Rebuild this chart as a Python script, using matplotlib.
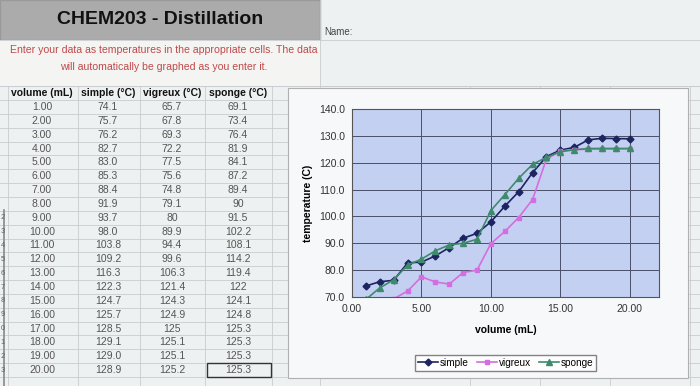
#!/usr/bin/env python3
"""
Spreadsheet screenshot: CHEM203 distillation table + temperature vs volume chart.
"""

import matplotlib
matplotlib.use("Agg")
import matplotlib.pyplot as plt
from matplotlib.patches import Rectangle

plt.rcParams["font.family"] = ["Liberation Sans", "DejaVu Sans"]

# Data (read from the sheet)
volume = [1.0, 2.0, 3.0, 4.0, 5.0, 6.0, 7.0, 8.0, 9.0, 10.0,
          11.0, 12.0, 13.0, 14.0, 15.0, 16.0, 17.0, 18.0, 19.0, 20.0]
simple = [74.1, 75.7, 76.2, 82.7, 83.0, 85.3, 88.4, 91.9, 93.7, 98.0,
          103.8, 109.2, 116.3, 122.3, 124.7, 125.7, 128.5, 129.1, 129.0, 128.9]
vigreux = [65.7, 67.8, 69.3, 72.2, 77.5, 75.6, 74.8, 79.1, 80, 89.9,
           94.4, 99.6, 106.3, 121.4, 124.3, 124.9, 125, 125.1, 125.1, 125.2]
sponge = [69.1, 73.4, 76.4, 81.9, 84.1, 87.2, 89.4, 90, 91.5, 102.2,
          108.1, 114.2, 119.4, 122, 124.1, 124.8, 125.3, 125.3, 125.3, 125.3]
# how the cells show them (Excel general format for some columns)
vigreux_txt = ["65.7", "67.8", "69.3", "72.2", "77.5", "75.6", "74.8", "79.1", "80", "89.9",
               "94.4", "99.6", "106.3", "121.4", "124.3", "124.9", "125", "125.1", "125.1", "125.2"]
sponge_txt = ["69.1", "73.4", "76.4", "81.9", "84.1", "87.2", "89.4", "90", "91.5", "102.2",
              "108.1", "114.2", "119.4", "122", "124.1", "124.8", "125.3", "125.3", "125.3", "125.3"]
headers = ["volume (mL)", "simple (\u00b0C)", "vigreux (\u00b0C)", "sponge (\u00b0C)"]
# partly visible row headers, rows with volume 9..20
row_nums = ["2", "3", "4", "5", "6", "7", "8", "9", "0", "1", "2", "3"]

W, H = 700, 386
SIMPLE_C = "#1c2560"
VIGREUX_C = "#d46ee0"
SPONGE_C = "#3f8a6c"
GRID_C = "#c9cdd0"
TEXT_C = "#555555"

fig = plt.figure(figsize=(7.0, 3.86), dpi=100)
fig.patch.set_facecolor("#eef1f1")

# background "sheet" in pixel coords
bg = fig.add_axes([0, 0, 1, 1])
bg.set_xlim(0, W)
bg.set_ylim(H, 0)
bg.axis("off")

# sheet gridlines
row_h = 13.85
y0 = 100.0
for i in range(22):
    y = y0 + (i - 1) * row_h
    bg.plot([0, W], [y, y], color=GRID_C, lw=0.6, zorder=0)
for x in [8, 78, 140, 205, 272, 320, 470, 540, 610, 690]:
    bg.plot([x, x], [86, H], color=GRID_C, lw=0.6, zorder=0)
bg.plot([0, W], [40, 40], color=GRID_C, lw=0.6)
bg.plot([0, W], [86, 86], color=GRID_C, lw=0.6)
bg.plot([320, 320], [0, 86], color=GRID_C, lw=0.6)
bg.plot([3.5, 3.5], [210, H], color="#888888", lw=1.2, zorder=0)

# title band
bg.add_patch(Rectangle((0, 0), 320, 40, facecolor="#ababab", edgecolor="#999999", zorder=1))
bg.text(160, 19, "CHEM203 - Distillation", ha="center", va="center",
        fontsize=14, fontweight="bold", color="#111111", zorder=2)
bg.add_patch(Rectangle((0, 40), 320, 46, facecolor="#f4f4f2", edgecolor="none", zorder=1))
bg.text(324, 32, "Name:", ha="left", va="center", fontsize=7, color="#444444")
bg.text(164, 50, "Enter your data as temperatures in the appropriate cells. The data",
        ha="center", va="center", fontsize=7.6, color="#c04a4a", zorder=2)
bg.text(164, 67, "will automatically be graphed as you enter it.",
        ha="center", va="center", fontsize=7.6, color="#c04a4a", zorder=2)

# table
col_x = [42, 108, 172, 238]
for cx, h in zip(col_x, headers):
    bg.text(cx, 93, h, ha="center", va="center", fontsize=7.5, fontweight="bold", color="#111111")
for i in range(len(volume)):
    y = 107 + i * row_h
    bg.text(col_x[0], y, f"{volume[i]:.2f}", ha="center", va="center", fontsize=7.5, color=TEXT_C)
    bg.text(col_x[1], y, f"{simple[i]:.1f}", ha="center", va="center", fontsize=7.5, color=TEXT_C)
    bg.text(col_x[2], y, vigreux_txt[i], ha="center", va="center", fontsize=7.5, color=TEXT_C)
    bg.text(col_x[3], y, sponge_txt[i], ha="center", va="center", fontsize=7.5, color=TEXT_C)
for i, r in enumerate(row_nums):
    bg.text(0.5, 107 + (8 + i) * row_h, r, ha="left", va="center", fontsize=5.5, color="#666666")
# selected cell
bg.add_patch(Rectangle((207, 363), 64, 14, facecolor="none", edgecolor="#333333", lw=1.0, zorder=3))

# chart box
bg.add_patch(Rectangle((288, 88), 400, 290, facecolor="#f7f8fa", edgecolor="#b0b0b0", lw=0.8, zorder=1))

# chart
ax = fig.add_axes([352 / W, 1 - 297 / H, 307 / W, 188 / H])
ax.set_facecolor("#c4d0f2")
ax.plot(volume, simple, color=SIMPLE_C, marker="D", ms=3.5, lw=1.2, label="simple")
ax.plot(volume, vigreux, color=VIGREUX_C, marker="s", ms=3.5, lw=1.2, label="vigreux")
ax.plot(volume, sponge, color=SPONGE_C, marker="^", ms=4, lw=1.2, label="sponge")
ax.set_xlim(0, 22.1)
ax.set_ylim(70, 140)
ax.set_xticks([0, 5, 10, 15, 20])
ax.set_xticklabels(["0.00", "5.00", "10.00", "15.00", "20.00"])
ax.set_yticks(range(70, 141, 10))
ax.set_yticklabels([f"{v:.1f}" for v in range(70, 141, 10)])
ax.grid(True, color="#4a5068", lw=0.7)
ax.set_axisbelow(True)
for s in ax.spines.values():
    s.set_color("#555555")
ax.tick_params(length=0, labelsize=7.5, colors="#333333", pad=5)
ax.set_xlabel("volume (mL)", fontsize=7.5, fontweight="bold", labelpad=8)
ax.set_ylabel("temperature (C)", fontsize=7.5, fontweight="bold", labelpad=4)
ax.legend(loc="upper center", bbox_to_anchor=(0.5, -0.28), ncol=3, fontsize=7.2,
          frameon=True, fancybox=False, edgecolor="#666666", handlelength=2,
          columnspacing=0.8, handletextpad=0.2, borderpad=0.3)

fig.savefig("out.png", dpi=100)
